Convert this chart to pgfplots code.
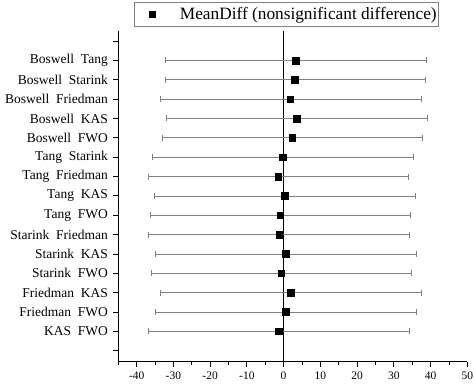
\documentclass[border=0pt]{standalone}
\usepackage{pgfplots}
\pgfplotsset{compat=1.18}
\usepackage{pgfplotstable}
\usepackage{fontspec}
\setmainfont{Liberation Serif}
\pgfplotstableread{
y x ep em
15 3.3 35.5 35.4
14 3.0 35.5 35.3
13 1.8 35.6 35.3
12 3.6 35.5 35.4
11 2.3 35.5 35.4
10 -0.2 35.5 35.4
9 -1.5 35.5 35.4
8 0.3 35.5 35.4
7 -0.9 35.4 35.5
6 -1.2 35.4 35.5
5 0.6 35.5 35.4
4 -0.7 35.4 35.4
3 1.9 35.6 35.4
2 0.5 35.5 35.4
1 -1.4 35.5 35.4
}\meandiff
\begin{document}
\begin{tikzpicture}
\clip (-118.3pt,-22.3pt) rectangle (355.7pt,361.7pt);
\useasboundingbox (-118.3pt,-22.3pt) rectangle (355.7pt,361.7pt);
\begin{axis}[
  at={(0,0)}, anchor=south west,
  scale only axis,
  width=349pt, height=330.7pt,
  xmin=-45, xmax=50, ymin=-0.57, ymax=16.52,
  axis x line*=bottom, axis y line*=left,
  axis line style={black, line width=0.8pt},
  tick align=outside,
  xtick={-40,-30,...,50},
  minor xtick={-45,-35,...,45},
  major tick length=5pt, minor tick length=3pt,
  ytick={0,...,16},
  yticklabels={,KAS\ \ FWO,Friedman\ \ FWO,Friedman\ \ KAS,Starink\ \ FWO,Starink\ \ KAS,Starink\ \ Friedman,Tang\ \ FWO,Tang\ \ KAS,Tang\ \ Friedman,Tang\ \ Starink,Boswell\ \ FWO,Boswell\ \ KAS,Boswell\ \ Friedman,Boswell\ \ Starink,Boswell\ \ Tang,},
  tick style={black, line width=0.8pt},
  /pgf/number format/assume math mode=true,
  xticklabel style={font=\fontsize{11.5}{13}\selectfont, yshift=-2pt},
  yticklabel style={font=\fontsize{13.5}{15}\selectfont, xshift=-2pt},
  legend style={at={(rel axis cs:0.0458,1.015)}, anchor=south west,
    draw=gray, fill=white, font=\fontsize{17.3}{20}\selectfont,
    legend cell align=left, inner xsep=0pt, inner ysep=3pt,
    nodes={inner xsep=1pt}},
  legend image code/.code={\path (0pt,0pt) (44pt,0pt);
    \draw[black, fill=black] (15pt,-2.8pt) rectangle (21pt,2.8pt);},
]
\addplot [black, line width=0.8pt, forget plot] coordinates {(0,-0.57) (0,16.52)};
\addplot [only marks, mark=square*, mark size=3.3pt, black,
  error bars/.cd, x dir=both, x explicit,
  error bar style={gray, line width=0.7pt},
  error mark options={rotate=90, gray, mark size=3pt, line width=0.7pt}]
  table [x=x, y=y, x error plus=ep, x error minus=em] {\meandiff};
\addlegendentry{MeanDiff (nonsignificant difference)}
\end{axis}
\end{tikzpicture}
\end{document}
